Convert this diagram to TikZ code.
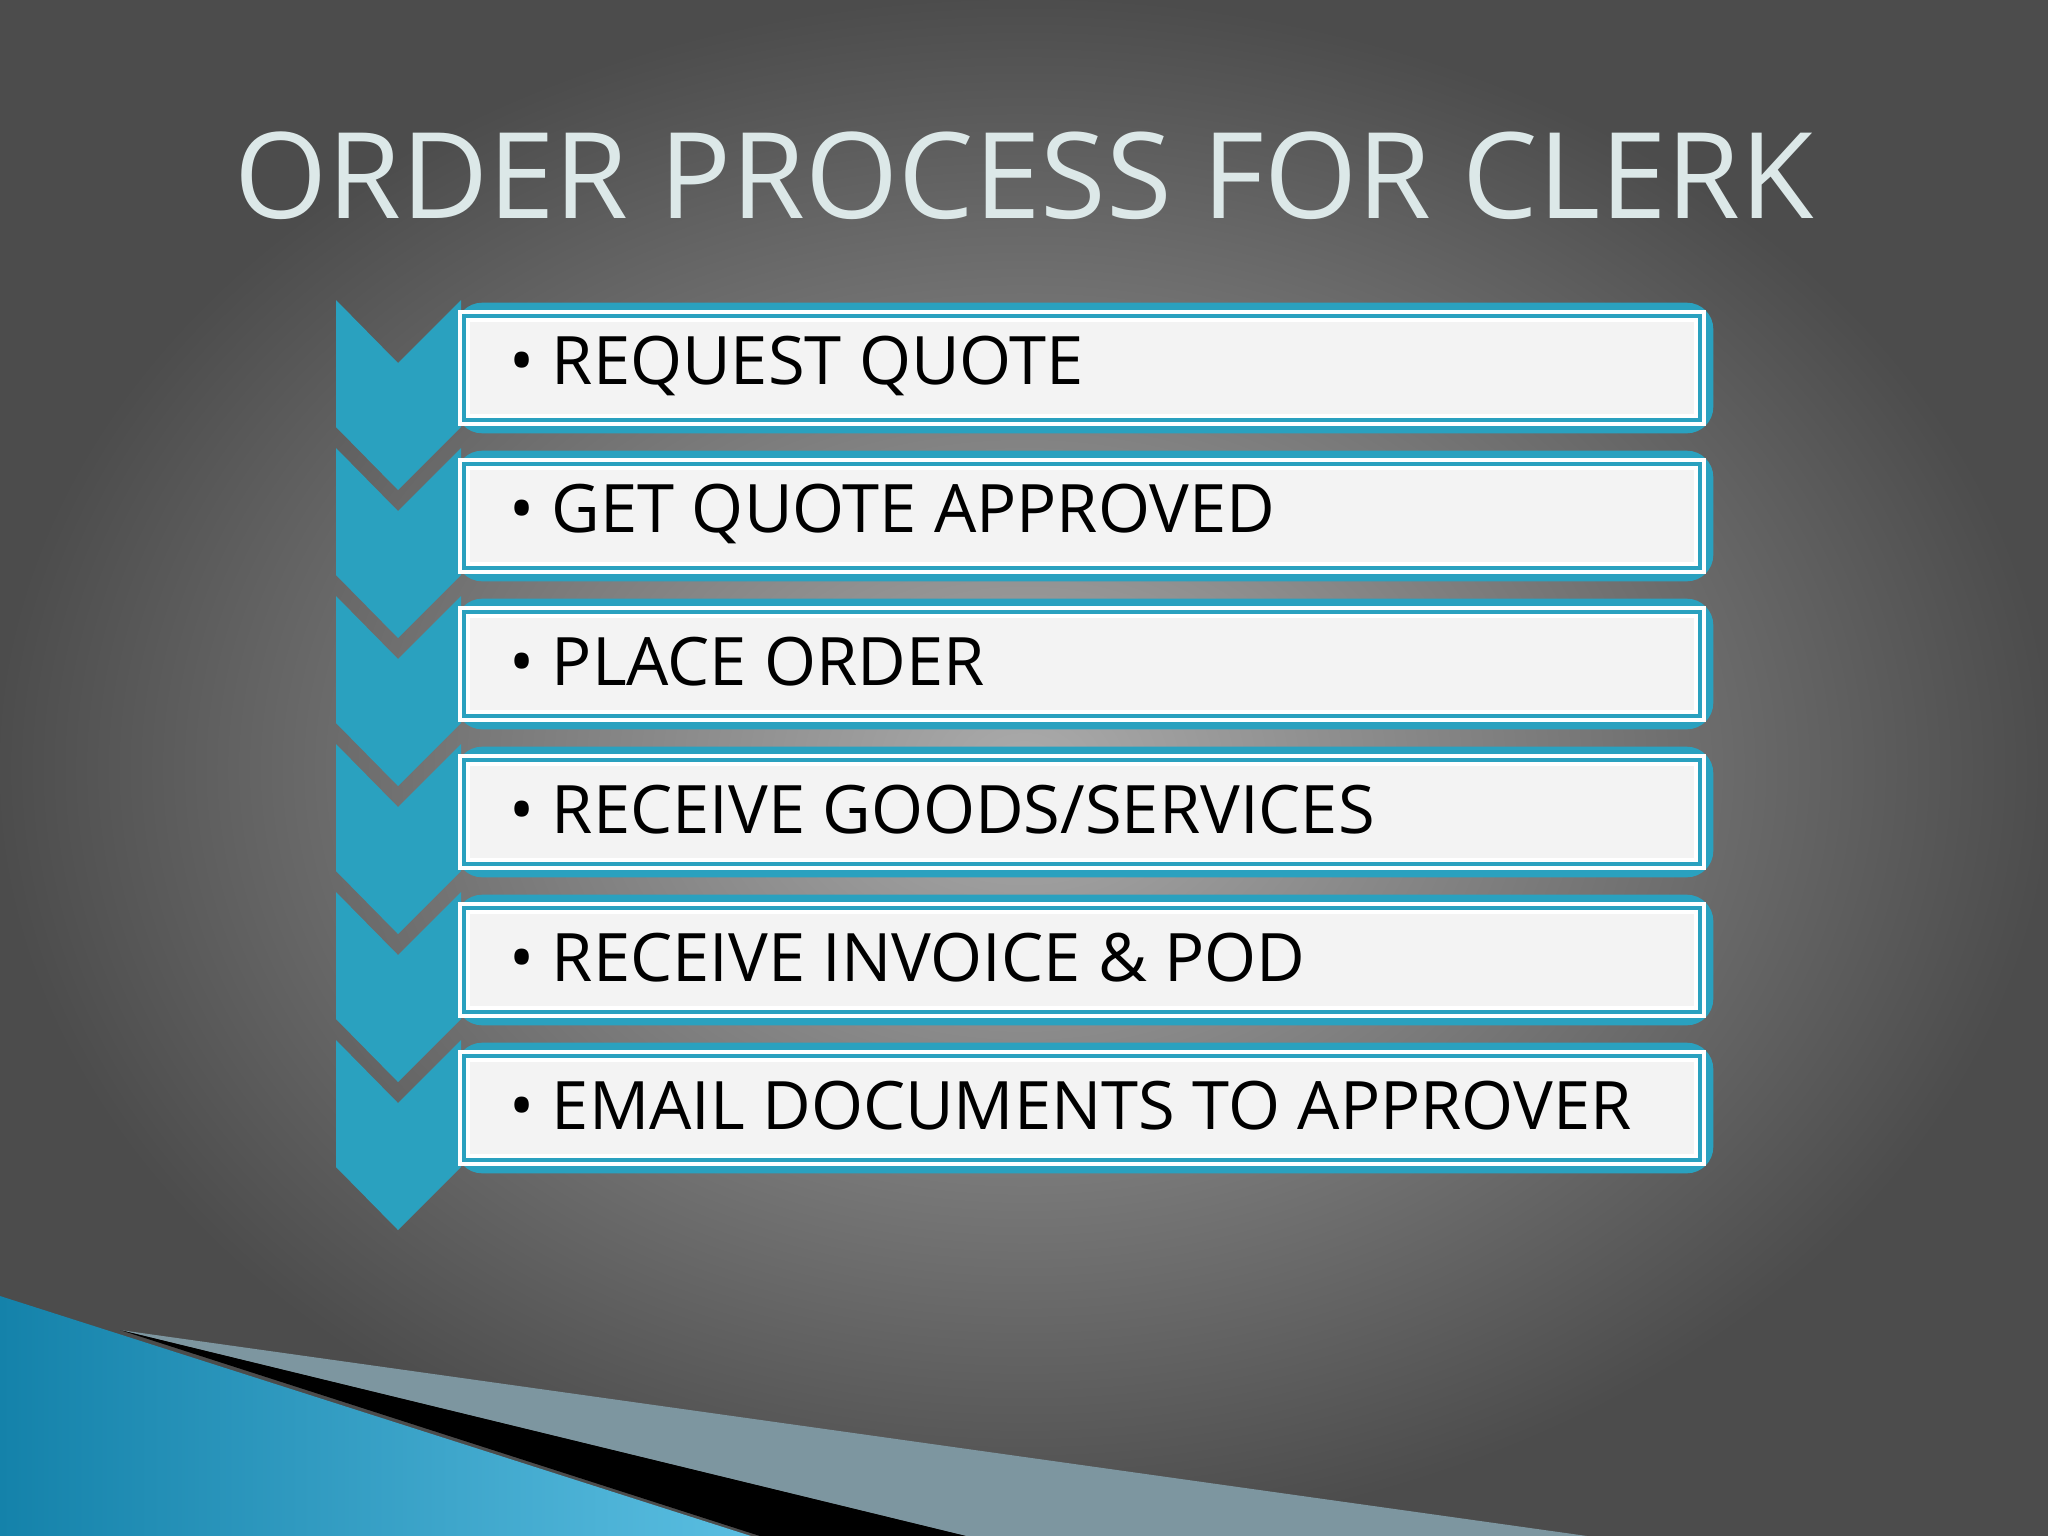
\documentclass[tikz,border=0pt]{standalone}
\usepackage{fontspec}
\setmainfont{Open Sans}
\usetikzlibrary{shadings}
\definecolor{teal1}{HTML}{2AA1BF}
\definecolor{boxfill}{HTML}{F3F3F3}
\definecolor{titlec}{HTML}{DCE8E8}
\tikzset{
  chev/.style={fill=teal1, draw=none},
  stepbox/.style={draw=teal1, line width=3pt, fill=teal1, rounded corners=6pt},
  inbox/.style={draw=white, line width=1.2pt, fill=boxfill, double=teal1, double distance=1pt},
  steptext/.style={anchor=west, font=\fontsize{19}{23}\selectfont, text=black}
}
\begin{document}
\begin{tikzpicture}[x=0.01cm,y=-0.01cm]
\useasboundingbox (0,0) rectangle (2048,1536);
\shade[outer color=black!70, inner color=black!33] (0,0) rectangle (2048,1536);
% bottom-left decoration
\fill[fill={rgb,255:red,125;green,150;blue,160}] (120,1330) -- (1587,1536) -- (966,1536) -- cycle;
\fill[black] (120,1330) -- (966,1536) -- (760,1536) -- cycle;
\shade[left color={rgb,255:red,20;green,130;blue,170}, right color={rgb,255:red,90;green,190;blue,225}] (0,1296) -- (751,1536) -- (0,1536) -- cycle;
% title
\node[text=titlec, font=\fontsize{34}{40}\selectfont] (title) at (1024,176) {ORDER PROCESS FOR CLERK};
% steps
\foreach \i/\t in {0/REQUEST QUOTE,1/GET QUOTE APPROVED,2/PLACE ORDER,3/{RECEIVE GOODS/SERVICES},4/RECEIVE INVOICE \& POD,5/EMAIL DOCUMENTS TO APPROVER}{
  \pgfmathsetmacro{\T}{300+148*\i}
  \fill[chev] (336,\T) -- (398,\T+63) -- (461,\T) -- (461,\T+127) -- (398,\T+190) -- (336,\T+127) -- cycle;
  \draw[stepbox] (461,\T+8) rectangle (1708,\T+128);
  \draw[inbox] (464,\T+16) rectangle (1700,\T+120);
  \node[steptext] (s\i) at (497,\T+66) {• \t};
}
\end{tikzpicture}
\end{document}
